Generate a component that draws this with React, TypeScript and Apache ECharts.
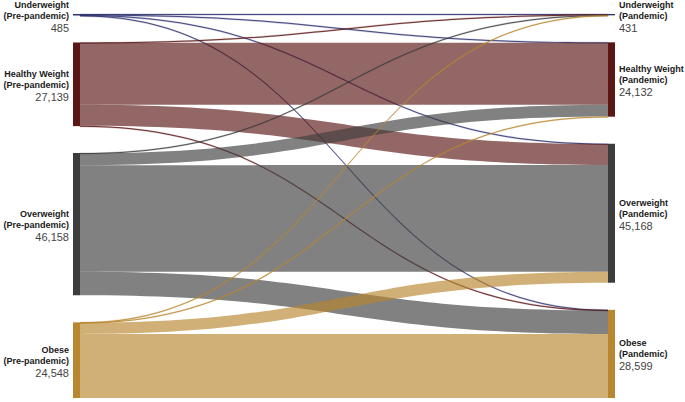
import React, { useEffect, useRef } from 'react';
import * as echarts from 'echarts';

const categories = ['Underweight', 'Healthy Weight', 'Overweight', 'Obese'];
const periods = ['Pre-pandemic', 'Pandemic'];

// flows: source (pre-pandemic category) -> target (pandemic category), in category order
const fromUnderweight = [200, 150, 80, 55];
const fromHealthy = [100, 20069, 6850, 120];
const fromOverweight = [81, 3823, 34588, 7666];
const fromObese = [50, 90, 3650, 20758];
const flows = [fromUnderweight, fromHealthy, fromOverweight, fromObese];

const nodeColors = ['#2e3170', '#5a1515', '#3d3d3d', '#b8862e'];

export default function App() {
  const ref = useRef<HTMLDivElement>(null);
  useEffect(() => {
    if (!ref.current) return;
    const chart = echarts.init(ref.current, null, { renderer: 'svg' });

    const preTotals = flows.map((row) => row.reduce((a, b) => a + b, 0));
    const panTotals = categories.map((_, j) => flows.reduce((a, row) => a + row[j], 0));

    const nodes: any[] = [];
    periods.forEach((per, pi) => {
      categories.forEach((cat, ci) => {
        nodes.push({
          name: `${cat} (${per})`,
          value: pi === 0 ? preTotals[ci] : panTotals[ci],
          itemStyle: { color: nodeColors[ci], borderWidth: 0 },
          label: {
            position: pi === 0 ? 'left' : 'right',
            align: pi === 0 ? 'right' : 'left',
            offset: [0, ci === 0 ? 2 : 1.5],
          },
        });
      });
    });

    const links: any[] = [];
    flows.forEach((row, si) => {
      row.forEach((v, ti) => {
        const thin = v < 500;
        links.push({
          source: `${categories[si]} (${periods[0]})`,
          target: `${categories[ti]} (${periods[1]})`,
          value: v,
          lineStyle: thin
            ? { color: nodeColors[si], opacity: 0.85, borderColor: nodeColors[si], borderWidth: 0.3 }
            : { color: nodeColors[si], opacity: 0.65 },
        });
      });
    });

    chart.setOption({
      animation: false,
      series: [
        {
          type: 'sankey',
          left: 73,
          right: 70,
          top: 14,
          bottom: 4,
          nodeWidth: 7,
          nodeGap: 27,
          layoutIterations: 0,
          draggable: false,
          emphasis: { disabled: true },
          data: nodes,
          links,
          lineStyle: { curveness: 0.5 },
          label: {
            show: true,
            distance: 4,
            fontFamily: '"Liberation Sans", Arial, sans-serif',
            formatter: (p: any) => {
              const name: string = p.name;
              const idx = name.indexOf(' (');
              const cat = name.slice(0, idx);
              const per = name.slice(idx + 1);
              const v = Number(p.value).toLocaleString('en-US');
              return `{n|${cat}}\n{n|${per}}\n{v|${v}}`;
            },
            rich: {
              n: {
                fontSize: 9,
                fontWeight: 'bold',
                color: '#1a1a1a',
                lineHeight: 11,
                fontFamily: '"Liberation Sans", Arial, sans-serif',
              },
              v: {
                fontSize: 11,
                color: '#444444',
                lineHeight: 13,
                fontFamily: '"Liberation Sans", Arial, sans-serif',
              },
            },
          },
        },
      ],
    });
    return () => chart.dispose();
  }, []);
  return (
    <div
      ref={ref}
      style={{ position: 'absolute', left: 0, top: 0, width: 685, height: 402, background: '#ffffff' }}
    />
  );
}
